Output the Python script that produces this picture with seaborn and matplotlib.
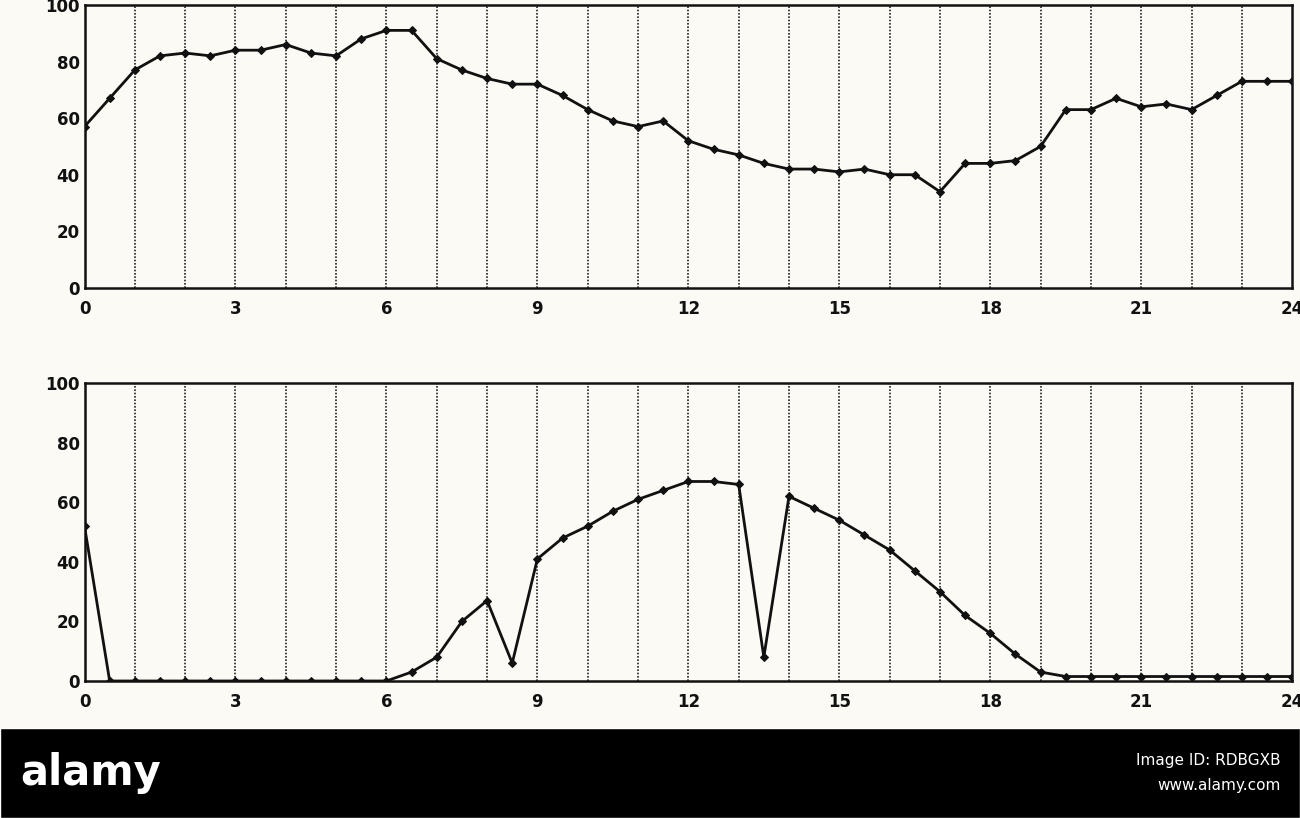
import numpy as np
import pandas as pd
import matplotlib
matplotlib.use("Agg")
import matplotlib.pyplot as plt
import seaborn as sns
from matplotlib.patches import Rectangle

# half-hourly readings, 0..24 h
hours = np.arange(0, 24.5, 0.5)
top_vals = [57, 67, 77, 82, 83, 82, 84, 84, 86, 83, 82, 88, 91, 91, 81, 77, 74, 72,
            72, 68, 63, 59, 57, 59, 52, 49, 47, 44, 42, 42, 41, 42, 40, 40, 34, 44,
            44, 45, 50, 63, 63, 67, 64, 65, 63, 68, 73, 73, 73]
bottom_vals = [52, 0, 0, 0, 0, 0, 0, 0, 0, 0, 0, 0, 0, 3, 8, 20, 27, 6,
               41, 48, 52, 57, 61, 64, 67, 67, 66, 8, 62, 58, 54, 49, 44, 37, 30, 22,
               16, 9, 3, 1.5, 1.5, 1.5, 1.5, 1.5, 1.5, 1.5, 1.5, 1.5, 1.5]
xticks = [0, 3, 6, 9, 12, 15, 18, 21, 24]
yticks = [0, 20, 40, 60, 80, 100]

sns.set_style("white")
plt.rcParams['font.family'] = ['DejaVu Sans']
bg = "#fbfaf5"
fig = plt.figure(figsize=(13, 8.18), dpi=100, facecolor=bg)

def panel(rect, vals):
    ax = fig.add_axes(rect, facecolor=bg)
    df = pd.DataFrame({"h": hours, "v": vals})
    sns.lineplot(data=df, x="h", y="v", ax=ax, color="#111111", lw=2,
                 marker="D", markersize=4, markeredgecolor="#111111")
    for h in range(1, 24):
        ax.axvline(h, color="#222222", lw=1.2, ls=(0, (1, 1)), zorder=0)
    ax.set_xlim(0, 24)
    ax.set_ylim(0, 100)
    ax.set_xticks(xticks)
    ax.set_yticks(yticks)
    ax.set_yticks(np.arange(0, 101, 5), minor=True)
    ax.tick_params(axis="both", which="major", direction="in", length=6, width=1.5,
                   labelsize=12, colors="#111111")
    ax.tick_params(axis="y", which="minor", direction="in", length=3, width=1)
    ax.tick_params(axis="x", which="major", direction="out", length=5)
    for lab in ax.get_xticklabels() + ax.get_yticklabels():
        lab.set_fontweight("bold")
    for s in ax.spines.values():
        s.set_color("#111111")
        s.set_linewidth(1.8)
    ax.set_xlabel("")
    ax.set_ylabel("")
    return ax

panel([0.065, 0.648, 0.929, 0.346], top_vals)
panel([0.065, 0.1675, 0.929, 0.364], bottom_vals)

# stock-photo footer bar
fig.patches.append(Rectangle((0, 0), 1, 0.11, transform=fig.transFigure,
                             facecolor="black", zorder=5))
fig.text(0.07, 0.055, "alamy", color="white", fontsize=30, fontweight="bold",
         ha="center", va="center", zorder=6)
fig.text(0.985, 0.07, "Image ID: RDBGXB", color="white", fontsize=11,
         ha="right", va="center", zorder=6)
fig.text(0.985, 0.04, "www.alamy.com", color="white", fontsize=11,
         ha="right", va="center", zorder=6)

fig.savefig("out.png", dpi=100, facecolor=bg)
